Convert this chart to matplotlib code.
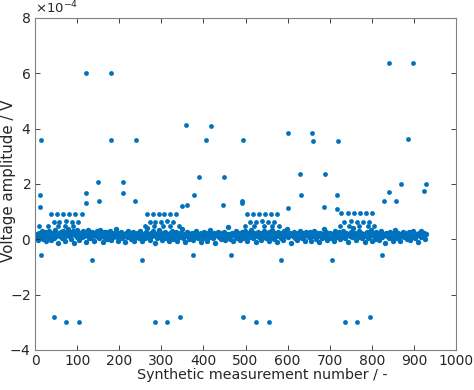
import numpy as np
import matplotlib
matplotlib.use("Agg")
import matplotlib.pyplot as plt
from matplotlib.ticker import ScalarFormatter

# ---- data (voltage in units of 1e-4 V) ----
# isolated outliers: measurement number, amplitude
outlier_x = [13, 12, 12, 13, 120, 121, 121, 135, 150, 152, 180, 180, 210, 210, 238, 240, 254,
             44, 74, 104,
             284, 314, 344, 348, 360, 359, 378, 375, 389, 407, 419, 447, 448, 465,
             493, 492, 492, 495, 524, 555, 584, 600, 602, 631, 630, 659, 660, 687, 689, 719,
             717, 717, 705, 736, 765, 795, 824, 828, 840, 841, 858, 870, 886, 898, 925, 928]
outlier_y = [3.60, 1.60, 1.18, -0.57, 6.00, 1.66, 1.32, -0.77, 2.06, 1.38, 6.00, 3.60, 2.06, 1.66, 1.37, 3.60, -0.77,
             -2.82, -3.00, -3.00,
             -3.00, -3.00, -2.82, 1.20, 1.24, 4.13, 1.61, -0.57, 2.25, 3.60, 4.10, 1.24, 2.25, -0.57,
             3.60, 1.38, 1.30, -2.82, -3.00, -3.00, -0.77, 3.83, 1.14, 1.61, 2.35, 3.83, 3.54, 1.18, 2.35, 3.54,
             1.61, 1.10, -0.76, -3.00, -3.00, -2.82, -0.57, 1.39, 6.38, 1.72, 1.37, 2.01, 3.62, 6.38, 1.73, 2.01]

# upper rows just above the main band
row_x = [37, 51, 66, 81, 95, 111, 44, 58, 73, 88, 103, 9, 30, 55, 70, 90,
         265, 279, 294, 307, 321, 335, 272, 286, 300, 314, 328, 260, 282, 305, 320, 342,
         504, 518, 532, 546, 560, 574, 511, 525, 539, 553, 567, 498, 520, 545, 562, 580,
         728, 744, 758, 772, 786, 800, 735, 750, 765, 779, 793, 724, 746, 770, 790, 806]
row_y = [0.91, 0.91, 0.91, 0.91, 0.91, 0.91, 0.63, 0.62, 0.64, 0.62, 0.61, 0.48, 0.47, 0.46, 0.49, 0.47,
         0.91, 0.91, 0.91, 0.91, 0.91, 0.91, 0.62, 0.63, 0.61, 0.64, 0.62, 0.47, 0.48, 0.46, 0.47, 0.49,
         0.91, 0.91, 0.91, 0.91, 0.91, 0.91, 0.63, 0.61, 0.64, 0.62, 0.62, 0.46, 0.48, 0.47, 0.49, 0.46,
         0.93, 0.93, 0.93, 0.93, 0.93, 0.93, 0.62, 0.64, 0.61, 0.63, 0.62, 0.47, 0.48, 0.46, 0.49, 0.47]

# main band, every second measurement, in units of 1e-6 V
band_y = [
    12, 5, 18, -3, 22, 9, 14, 30, 2, 16, 25, -8, 11, 20, 7, 28, 15, -2, 19, 24, 6, 33, 10, 17, -12,
    21, 13, 27, 4, 18, 31, 8, -5, 23, 14, 38, 11, 26, 1, 19, 29, -15, 16, 22, 9, 35, 13, -4, 24, 17,
    7, 28, 12, 20, -9, 15, 32, 6, 21, 18, 3, 26, 14, -6, 23, 10, 29, 17, 5, 34, 12, 19, -10, 25, 8,
    16, 27, 2, 20, 13, 30, -3, 18, 9, 24, 15, 36, 7, 22, -7, 17, 11, 26, 4, 19, 14, -11, 23, 8, 31,
    10, 16, 2, 21, 12, 27, -5, 15, 9, 24, 18, 3, 29, 11, -8, 20, 14, 6, 25, 13, 42, 7, 17, -2, 22,
    10, 28, 15, -13, 19, 5, 24, 12, 33, 8, 16, -4, 21, 11, 26, 3, 18, 14, -7, 23, 9, 30, 16, 1, 20,
    12, 25, -6, 17, 8, 22, 13, 37, 5, 19, -10, 15, 27, 10, 21, 2, 18, 12, 24, -3, 16, 9, 29, 14, 6,
    20, 11, -9, 23, 15, 4, 26, 13, 18, -5, 21, 8, 32, 12, 17, 3, 24, 10, -12, 19, 14, 27, 7, 22, 0,
    16, 11, 25, -4, 18, 13, 44, 9, 20, 2, 15, 23, -8, 17, 12, 28, 6, 21, 14, -2, 19, 10, 26, 5, 16,
    30, 12, -7, 22, 8, 18, 35, 13, 3, 24, 11, -11, 20, 15, 27, 7, 17, -3, 23, 10, 29, 14, 4, 19, 12,
    25, -6, 16, 9, 33, 18, 1, 21, 13, -9, 26, 11, 17, 6, 22, 14, -4, 28, 10, 19, 38, 8, 15, 24, -12,
    20, 12, 27, 5, 18, 16, -2, 23, 9, 31, 14, 3, 21, 11, -8, 25, 15, 19, 7, 26, 13, -5, 17, 10, 29,
    16, 2, 22, 12, -10, 24, 18, 6, 20, 14, 36, 9, 27, -3, 15, 11, 23, 4, 19, 13, -7, 28, 16, 8, 21,
    12, 25, -1, 17, 10, 30, 14, 5, 22, 18, -11, 20, 13, 26, 7, 16, 41, 11, 24, -4, 19, 15, 28, 9, 21,
    3, 17, 12, -9, 23, 14, 27, 6, 18, 10, 32, -6, 20, 16, 2, 25, 13, 19, -2, 22, 11, 29, 8, 17, 15,
    -13, 24, 12, 21, 5, 26, 14, 18, -5, 20, 9, 34, 16, 3, 23, 11, -8, 19, 13, 27, 7, 22, 15, 1, 18,
    12, 25, -3, 21, 10, 30, 16, 6, 19, 14, -10, 24, 11, 28, 8, 17, 13, 22, 2, 20,
]

band_x = np.linspace(1, 929, len(band_y))
band_v = np.array(band_y) / 100.0

blue = "#0072BD"

plt.rcParams["font.family"] = ["DejaVu Sans"]
plt.rcParams["axes.unicode_minus"] = False

fig = plt.figure(figsize=(4.74, 3.90), dpi=100)
ax = fig.add_axes([0.074, 0.103, 0.888, 0.851])

ax.scatter(band_x, band_v * 1e-4, s=15, color=blue, linewidths=0)
ax.scatter(row_x, np.array(row_y) * 1e-4, s=12, color=blue, linewidths=0)
ax.scatter(outlier_x, np.array(outlier_y) * 1e-4, s=12, color=blue, linewidths=0)

ax.set_xlim(0, 1000)
ax.set_ylim(-4e-4, 8e-4)
ax.set_xticks(np.arange(0, 1001, 100))
ax.set_yticks(np.arange(-4, 9, 2) * 1e-4)

axis_col = "#262626"
fmt = ScalarFormatter(useMathText=True)
fmt.set_powerlimits((0, 0))
ax.yaxis.set_major_formatter(fmt)
ax.yaxis.get_offset_text().set_fontsize(9.5)
ax.yaxis.get_offset_text().set_color(axis_col)

for sp in ax.spines.values():
    sp.set_color("#808080")
    sp.set_linewidth(0.8)
ax.tick_params(direction="in", length=3.5, width=0.6, top=True, right=True,
               labelsize=10, colors=axis_col, pad=3)

ax.set_xlabel("Synthetic measurement number / -", fontsize=10.3, color=axis_col)
ax.xaxis.set_label_coords(0.54, -0.055)
ax.set_ylabel("Voltage amplitude / V", fontsize=10.8, color=axis_col)
ax.yaxis.set_label_coords(-0.045, 0.51)

fig.savefig("out.png", dpi=100)
